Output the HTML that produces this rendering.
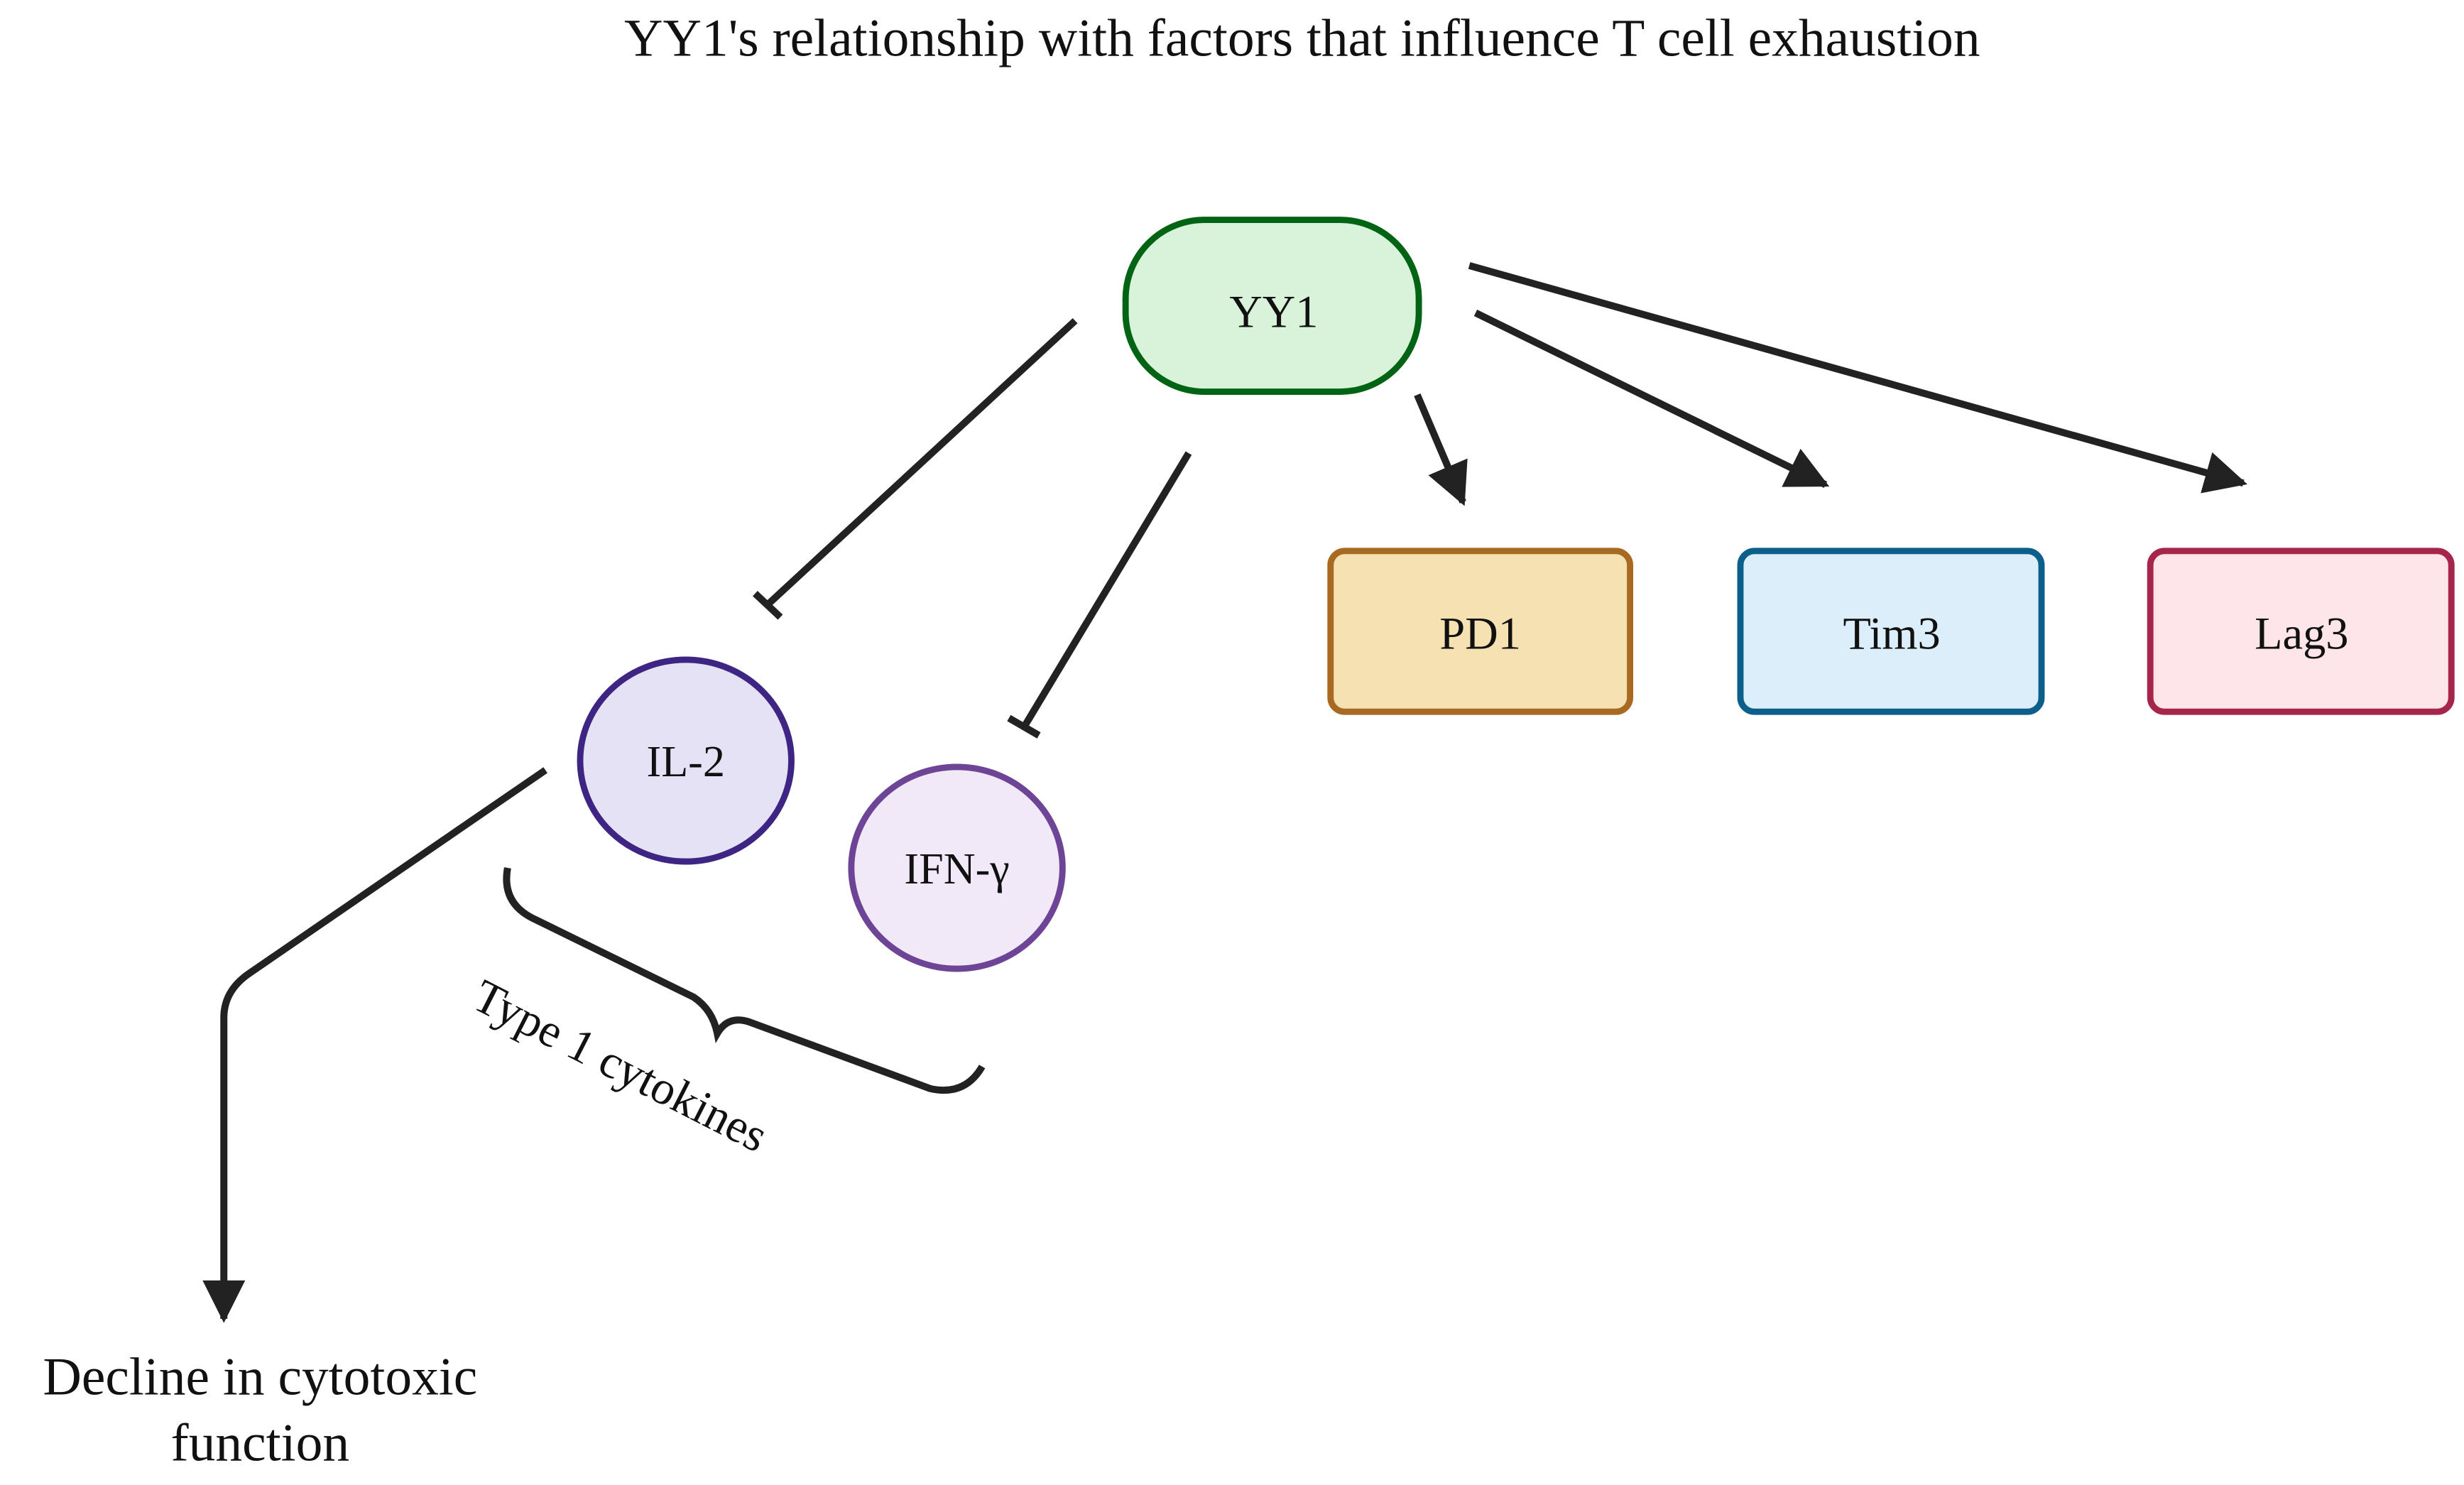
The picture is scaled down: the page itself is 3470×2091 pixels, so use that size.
<!DOCTYPE html>
<html><head><meta charset="utf-8"><style>
html,body{margin:0;padding:0;background:#fff;}
svg{display:block;}
text{font-family:"Liberation Serif",serif;fill:#111;}
</style></head><body>
<svg width="3470" height="2091" viewBox="0 0 1563 941" xmlns="http://www.w3.org/2000/svg">
<defs>
<marker id="a" viewBox="0 0 10 10" refX="9" refY="5" markerWidth="6" markerHeight="6" markerUnits="strokeWidth" orient="auto"><path d="M0,0 L10,5 L0,10 z" fill="#222"/></marker>
</defs>
<text x="826" y="35" font-size="34" text-anchor="middle">YY1's relationship with factors that influence T cell exhaustion</text>

<g stroke="#222" stroke-width="4.5" fill="none" stroke-linecap="butt">
<line x1="682" y1="203" x2="487" y2="383"/>
<line x1="479" y1="376" x2="495" y2="391"/>
<line x1="754" y1="287" x2="650" y2="460"/>
<line x1="640" y1="455" x2="659" y2="466"/>
<line x1="899" y1="250" x2="928" y2="318" marker-end="url(#a)"/>
<line x1="936" y1="198" x2="1158" y2="307" marker-end="url(#a)"/>
<line x1="932" y1="168" x2="1423" y2="306" marker-end="url(#a)"/>
<path d="M346,488 L158,617 Q142,628 142,645 L142,836" marker-end="url(#a)"/>
<path d="M322,550 Q318,572 338,582 L440,632 Q452,640 455,655 Q462,643 476,648 L590,690 Q612,695 623,676"/>
</g>

<rect x="714" y="139" width="186" height="109" rx="50" fill="#d8f3da" stroke="#006414" stroke-width="4"/>
<text x="808" y="207" font-size="29" text-anchor="middle">YY1</text>

<rect x="844" y="349" width="190" height="102" rx="9" fill="#f5e1b1" stroke="#a86a22" stroke-width="4"/>
<text x="939" y="411" font-size="29" text-anchor="middle">PD1</text>
<rect x="1104" y="349" width="191" height="102" rx="9" fill="#dbeefa" stroke="#0b5f8a" stroke-width="4"/>
<text x="1200" y="411" font-size="29" text-anchor="middle">Tim3</text>
<rect x="1364" y="349" width="191" height="102" rx="9" fill="#fde5ea" stroke="#a5264a" stroke-width="4"/>
<text x="1460" y="411" font-size="29" text-anchor="middle">Lag3</text>

<ellipse cx="435" cy="482" rx="67" ry="64" fill="#e6e2f6" stroke="#3f2583" stroke-width="4"/>
<text x="435" y="492" font-size="28" text-anchor="middle">IL-2</text>
<ellipse cx="607" cy="550" rx="67" ry="64" fill="#f1e8f8" stroke="#6e4596" stroke-width="4"/>
<text x="607" y="560" font-size="28" text-anchor="middle">IFN-γ</text>

<text x="0" y="0" font-size="30" transform="translate(298,638) rotate(27)">Type 1 cytokines</text>

<text x="165" y="884" font-size="34" text-anchor="middle">Decline in cytotoxic</text>
<text x="165" y="926" font-size="34" text-anchor="middle">function</text>
</svg>
</body></html>
